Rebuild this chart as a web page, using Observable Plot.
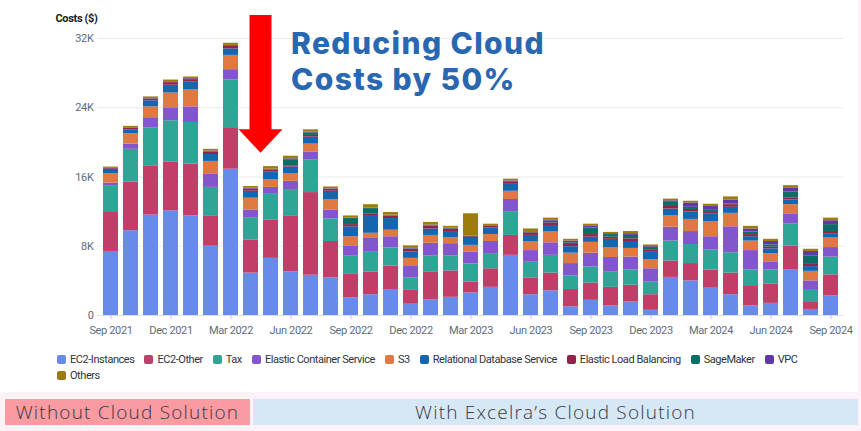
<!DOCTYPE html>
<html>
<head>
<meta charset="utf-8">
<script src="https://cdn.jsdelivr.net/npm/d3@7"></script>
<script src="https://cdn.jsdelivr.net/npm/@observablehq/plot@0.6"></script>
<style>
  html, body { margin: 0; padding: 0; }
  body {
    width: 861px; height: 431px; position: relative; overflow: hidden;
    background: #fbf3f7;
    font-family: Roboto, sans-serif;
  }
  #card { position: absolute; left: 0; top: 0; width: 858px; height: 392px; background: #ffffff; }
  #chart { position: absolute; left: 0; top: 0; }
  #headline {
    position: absolute; left: 291px; top: 26px;
    font-family: Inter, "Open Sans", sans-serif; font-weight: 800;
    font-size: 30px; line-height: 35.7px; letter-spacing: 1.4px; color: #2a67b1;
  }
  #legend { position: absolute; left: 57px; top: 351px; font-size: 11px; letter-spacing: -0.45px; color: #2f343b; }
  .row { display: flex; height: 16px; align-items: center; }
  .item { display: flex; align-items: center; margin-right: 10px; white-space: nowrap; }
  .sw { width: 9px; height: 9px; border-radius: 2px; margin-right: 4px; }
  .band {
    position: absolute; top: 399px; height: 26px;
    display: flex; align-items: center; justify-content: center;
    font-family: "Open Sans", Lato, sans-serif; font-weight: 300; font-size: 19px;
    letter-spacing: 1.2px; color: #383846;
  }
</style>
</head>
<body>
<div id="card"></div>
<div id="chart"></div>
<div id="headline">Reducing Cloud<br>Costs by 50%</div>
<div id="legend"></div>
<div class="band" style="left:5px;width:245px;background:#f99ba1;">Without Cloud Solution</div>
<div class="band" style="left:253px;width:605px;background:#d6e7f5;">With Excelra’s Cloud Solution</div>
<script>
// Billing months shown on the x axis
const months = [
  "Sep 2021", "Oct 2021", "Nov 2021", "Dec 2021", "Jan 2022", "Feb 2022", "Mar 2022", "Apr 2022",
  "May 2022", "Jun 2022", "Jul 2022", "Aug 2022", "Sep 2022", "Oct 2022", "Nov 2022", "Dec 2022",
  "Jan 2023", "Feb 2023", "Mar 2023", "Apr 2023", "May 2023", "Jun 2023", "Jul 2023", "Aug 2023",
  "Sep 2023", "Oct 2023", "Nov 2023", "Dec 2023", "Jan 2024", "Feb 2024", "Mar 2024", "Apr 2024",
  "May 2024", "Jun 2024", "Jul 2024", "Aug 2024", "Sep 2024"
];
const tickMonths = [
  "Sep 2021", "Dec 2021", "Mar 2022", "Jun 2022", "Sep 2022", "Dec 2022", "Mar 2023",
  "Jun 2023", "Sep 2023", "Dec 2023", "Mar 2024", "Jun 2024", "Sep 2024"
];
const yTicks = [0, 8000, 16000, 24000, 32000];

// Monthly cost per service, in dollars
const ec2Instances = [7400, 9800, 11600, 12100, 11500, 8000, 16900, 4900, 6600, 5050,
  4650, 4350, 2050, 2400, 3000, 1300, 1800, 2100, 2600, 3250,
  6950, 2400, 2850, 1000, 1750, 1100, 1550, 600, 4400, 4000,
  3150, 2400, 1100, 1400, 5300, 700, 2250];
const ec2Other = [4600, 5600, 5700, 5600, 6000, 3450, 4800, 3800, 4400, 6400,
  9550, 4200, 2700, 2600, 2700, 1600, 3250, 3050, 1250, 2150,
  2300, 1950, 2050, 2000, 2000, 2150, 1950, 1800, 1900, 2000,
  2100, 2500, 2350, 2250, 2700, 800, 2450];
const tax = [3000, 3800, 4350, 4800, 4800, 3350, 5500, 2600, 3000, 3100,
  3800, 2600, 2100, 2300, 2100, 1450, 1850, 1750, 2100, 1750,
  2750, 1800, 2050, 1550, 1850, 1750, 1750, 1450, 2300, 2200,
  2300, 2350, 1800, 1600, 2600, 1400, 2050];
const ecs = [300, 600, 1200, 1500, 1800, 1500, 1200, 900, 800, 950,
  900, 1000, 1200, 1600, 1300, 1400, 1450, 1400, 1350, 1400,
  1400, 1350, 1450, 1450, 1600, 1700, 1500, 1550, 1600, 1500,
  1550, 3000, 2250, 950, 1150, 1100, 1100];
const s3 = [1100, 1200, 1250, 1700, 1950, 1500, 1650, 1350, 900, 900,
  900, 1250, 1050, 600, 750, 850, 900, 700, 800, 800,
  950, 1000, 1300, 1200, 1250, 1100, 1000, 1050, 1300, 1400,
  1750, 1550, 1100, 950, 1050, 1100, 1100];
const rds = [360, 450, 700, 900, 900, 800, 750, 800, 900, 750,
  800, 950, 1150, 2050, 1350, 750, 750, 700, 800, 750,
  800, 750, 700, 750, 600, 1000, 800, 850, 800, 850,
  900, 700, 500, 550, 550, 550, 500];
const elb = [190, 200, 200, 300, 300, 300, 300, 250, 200, 150,
  200, 200, 250, 200, 250, 300, 300, 300, 200, 200,
  300, 300, 300, 250, 300, 250, 300, 300, 400, 300,
  250, 300, 250, 200, 200, 250, 250];
const sageMaker = [0, 0, 0, 0, 0, 0, 0, 0, 0, 700,
  300, 50, 700, 600, 50, 50, 50, 50, 50, 50,
  50, 100, 200, 200, 750, 300, 400, 250, 450, 250,
  150, 100, 300, 250, 700, 1000, 800];
const vpc = [50, 50, 50, 100, 100, 100, 100, 100, 100, 100,
  100, 50, 50, 50, 100, 50, 100, 50, 50, 50,
  50, 50, 150, 200, 200, 100, 200, 100, 100, 500,
  450, 450, 350, 400, 500, 500, 450];
const others = [150, 150, 200, 200, 200, 200, 250, 200, 300, 300,
  250, 200, 250, 400, 300, 300, 300, 200, 2550, 150,
  200, 300, 200, 200, 250, 150, 250, 200, 200, 200,
  250, 350, 300, 250, 250, 250, 300];

const serviceNames = ["EC2-Instances", "EC2-Other", "Tax", "Elastic Container Service", "S3",
  "Relational Database Service", "Elastic Load Balancing", "SageMaker", "VPC", "Others"];
const serviceValues = [ec2Instances, ec2Other, tax, ecs, s3, rds, elb, sageMaker, vpc, others];
const serviceColors = ["#688ae8", "#c33d69", "#2ea597", "#8456ce", "#e07941",
  "#1466b1", "#962249", "#096f64", "#6237a7", "#9c7d0b"];

// Annotation arrow: drawn between these two months, spanning these cost levels
const arrowMonths = ["Apr 2022", "May 2022"];
const arrowTop = 34650, arrowHeadBase = 21450, arrowTip = 18750;

// Long table for stacking: services in legend order, bottom to top
const rows = [];
serviceNames.forEach((name, s) => {
  months.forEach((month, i) => rows.push({month, service: name, cost: serviceValues[s][i]}));
});

function redArrow(index, scales) {
  const x = scales.x, y = scales.y;
  const bw = typeof x.bandwidth === "function" ? x.bandwidth() : (x.bandwidth || 0);
  const cx = (x(arrowMonths[0]) + x(arrowMonths[1]) + bw) / 2;
  const y0 = y(arrowTop), y1 = y(arrowHeadBase), y2 = y(arrowTip);
  const shaft = 11, head = 22;
  const path = `M${cx - shaft},${y0}H${cx + shaft}V${y1}H${cx + head}L${cx},${y2}L${cx - head},${y1}H${cx - shaft}Z`;
  const g = d3.create("svg:g");
  g.append("path").attr("d", path).attr("fill", "#ff0000");
  return g.node();
}

const chart = Plot.plot({
  width: 861,
  height: 345,
  marginLeft: 97,
  marginRight: 17,
  marginTop: 38,
  marginBottom: 30,
  style: {fontFamily: "Roboto, sans-serif", fontSize: "11px", letterSpacing: "-0.35px",
    color: "#5f6b7a", background: "none", overflow: "visible"},
  x: {domain: months, padding: 0.25, label: null},
  y: {domain: [0, 32000], label: null},
  color: {domain: serviceNames, range: serviceColors},
  marks: [
    Plot.ruleY(yTicks.slice(1), {stroke: "#e9ebed", strokeWidth: 1.2}),
    Plot.barY(rows, {x: "month", y: "cost", fill: "service"}),
    Plot.ruleY([0], {stroke: "#dfe2e5"}),
    Plot.axisX({ticks: tickMonths, tickSize: 4, tickPadding: 7, stroke: "#c3c8ce", fill: "#5f6b7a", label: null}),
    Plot.axisY({ticks: yTicks, tickSize: 0, tickPadding: 4, label: null,
      tickFormat: d => d === 0 ? "0" : `${d / 1000}K`}),
    Plot.text(["Costs ($)"], {frameAnchor: "top-left", dx: -42, dy: -24, textAnchor: "start",
      fontWeight: "bold", fill: "#16191f", fontSize: 11}),
    redArrow
  ]
});
document.getElementById("chart").append(chart);

// Legend: two rows, the last service wraps onto the second line
const legend = d3.select("#legend");
const legendRows = [serviceNames.slice(0, 9), serviceNames.slice(9)];
legendRows.forEach(names => {
  const row = legend.append("div").attr("class", "row");
  names.forEach(name => {
    const item = row.append("div").attr("class", "item");
    item.append("div").attr("class", "sw").style("background", serviceColors[serviceNames.indexOf(name)]);
    item.append("span").text(name);
  });
});
</script>
</body>
</html>
